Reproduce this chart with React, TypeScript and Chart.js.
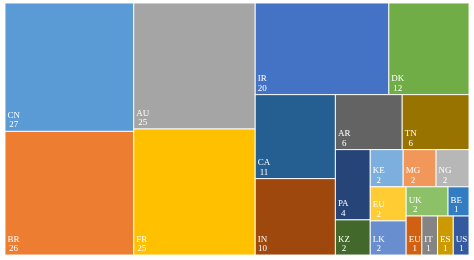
import React, { useEffect, useRef } from "react";
import { Chart, registerables } from "chart.js";

Chart.register(...registerables);

// Category codes (sorted by value, as in the source workbook)
const codes = ["CN", "BR", "AU", "FR", "IR", "DK", "CA", "IN", "AR", "TN", "PA", "KZ", "KE", "MG", "NG", "EU", "LK", "UK", "BE", "EU", "IT", "ES", "US"];
// Values shown in each tile
const values = [27, 26, 25, 25, 20, 12, 11, 10, 6, 6, 4, 2, 2, 2, 2, 2, 2, 2, 1, 1, 1, 1, 1];
// Office palette colours, in the same order
const colors = [
  "#5B9BD5", "#ED7D31", "#A5A5A5", "#FFC000", "#4472C4", "#70AD47",
  "#255E91", "#9E480E", "#636363", "#997300", "#264478", "#43682B",
  "#7CAFDD", "#F1975A", "#B7B7B7", "#FFCD33", "#698ED0", "#8CC168",
  "#327DC2", "#D26012", "#848484", "#CC9A00", "#335AA1",
];

const ASPECT_TARGET = 0.776;

type Rect = { x: number; y: number; w: number; h: number };

function squarify(vals: number[], W: number, H: number, k: number): Rect[] {
  const out: Rect[] = new Array(vals.length);
  let x0 = 0, y0 = 0, dx = W, dy = H;
  let rest = vals.reduce((a, b) => a + b, 0);
  const m = (r: number) => Math.max(k / r, r / k);
  let i = 0;
  while (i < vals.length) {
    const vertical = dx >= dy;
    const place = (j: number) => {
      let s = 0;
      for (let q = i; q <= j; q++) s += vals[q];
      const rects: Rect[] = [];
      if (vertical) {
        const t = (dx * s) / rest;
        let yy = y0;
        for (let q = i; q <= j; q++) {
          const hh = (dy * vals[q]) / s;
          rects.push({ x: x0, y: yy, w: t, h: hh });
          yy += hh;
        }
      } else {
        const t = (dy * s) / rest;
        let xx = x0;
        for (let q = i; q <= j; q++) {
          const ww = (dx * vals[q]) / s;
          rects.push({ x: xx, y: y0, w: ww, h: t });
          xx += ww;
        }
      }
      return { rects, s };
    };
    let j = i;
    let cur = place(j);
    let prev = m(cur.rects[0].w / cur.rects[0].h);
    while (j + 1 < vals.length) {
      const nxt = place(j + 1);
      const last = nxt.rects[nxt.rects.length - 1];
      const mm = m(last.w / last.h);
      if (mm > prev) break;
      prev = mm;
      j++;
      cur = nxt;
    }
    cur.rects.forEach((r, q) => (out[i + q] = r));
    if (vertical) {
      const t = cur.rects[0].w;
      x0 += t;
      dx -= t;
    } else {
      const t = cur.rects[0].h;
      y0 += t;
      dy -= t;
    }
    rest -= cur.s;
    i = j + 1;
  }
  return out;
}

export default function App() {
  const ref = useRef<HTMLCanvasElement>(null);
  useEffect(() => {
    if (!ref.current) return;
    const treemapPlugin = {
      id: "treemapCells",
      afterDatasetsDraw(chart: any) {
        const { ctx, chartArea, scales } = chart;
        const W = chartArea.right - chartArea.left;
        const H = chartArea.bottom - chartArea.top;
        const rects = squarify(values, W, H, ASPECT_TARGET);
        ctx.save();
        rects.forEach((r, idx) => {
          const px0 = scales.x.getPixelForValue(r.x / W);
          const px1 = scales.x.getPixelForValue((r.x + r.w) / W);
          const py0 = scales.y.getPixelForValue(r.y / H);
          const py1 = scales.y.getPixelForValue((r.y + r.h) / H);
          ctx.fillStyle = colors[idx];
          ctx.fillRect(px0, py0, px1 - px0, py1 - py0);
          ctx.strokeStyle = "rgba(255,255,255,0.9)";
          ctx.lineWidth = 1;
          ctx.strokeRect(px0, py0, px1 - px0, py1 - py0);
        });
        ctx.font = "9px 'Liberation Serif', 'DejaVu Serif', serif";
        ctx.fillStyle = "#FFFFFF";
        ctx.textBaseline = "alphabetic";
        ctx.textAlign = "center";
        rects.forEach((r, idx) => {
          const px0 = scales.x.getPixelForValue(r.x / W);
          const py1 = scales.y.getPixelForValue((r.y + r.h) / H);
          const name = codes[idx];
          const val = String(values[idx]);
          const wBlock = Math.max(ctx.measureText(name).width, ctx.measureText(val).width);
          const cx = px0 + 2.5 + wBlock / 2;
          ctx.fillText(name, cx, py1 - 13.5);
          ctx.fillText(val, cx, py1 - 4);
        });
        ctx.restore();
      },
    };
    const chart = new Chart(ref.current, {
      type: "scatter",
      data: { datasets: [{ label: "values", data: [] }] },
      options: {
        animation: false,
        responsive: false,
        maintainAspectRatio: false,
        layout: { padding: { left: 5, right: 5, top: 3, bottom: 5 } },
        scales: {
          x: { type: "linear", min: 0, max: 1, display: false },
          y: { type: "linear", min: 0, max: 1, reverse: true, display: false },
        },
        plugins: { legend: { display: false }, tooltip: { enabled: false } },
      },
      plugins: [treemapPlugin],
    });
    return () => chart.destroy();
  }, []);
  return (
    <div style={{ position: "fixed", left: 0, top: 0, width: 474, height: 260, background: "#ffffff" }}>
      <canvas ref={ref} width={474} height={260} style={{ width: 474, height: 260, display: "block" }} />
    </div>
  );
}
